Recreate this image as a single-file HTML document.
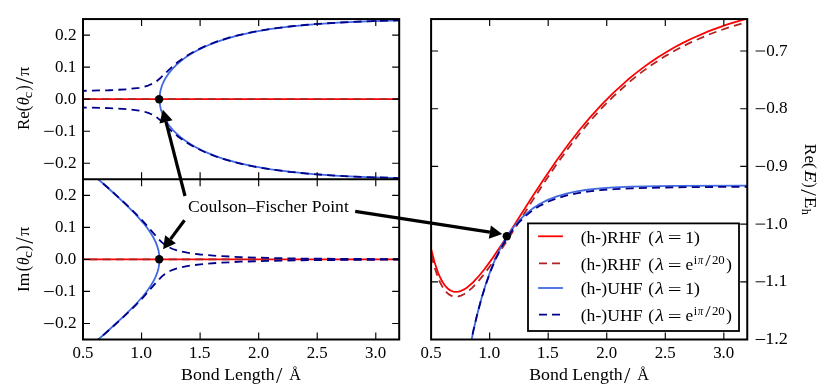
<!DOCTYPE html><html><head><meta charset="utf-8"><style>html,body{margin:0;padding:0;background:#fff;overflow:hidden;}svg{display:block;will-change:transform;}text{font-family:"Liberation Serif",serif;fill:#000;}</style></head><body>
<svg width="830" height="386" viewBox="0 0 830 386">
<defs>
<clipPath id="ct"><rect x="83.0" y="19.07" width="316.20" height="160.23"/></clipPath>
<clipPath id="cb"><rect x="83.0" y="179.3" width="316.20" height="160.20"/></clipPath>
<clipPath id="cr"><rect x="431.1" y="19.07" width="316.15" height="320.43"/></clipPath>
</defs>
<path d="M159.53,99.19 L160.13,92.45 L160.73,89.67 L161.93,85.76 L163.73,81.51 L166.13,77.15 L169.14,72.81 L172.74,68.52 L176.34,64.89 L180.55,61.23 L185.36,57.61 L190.76,54.06 L196.17,50.96 L202.17,47.91 L208.18,45.22 L214.79,42.60 L222.00,40.08 L237.01,35.72 L253.23,32.08 L271.25,28.97 L291.08,26.40 L313.30,24.28 L338.53,22.58 L366.76,21.29 L399.20,20.36" fill="none" stroke="#4169e1" stroke-width="1.8" stroke-linecap="square" stroke-linejoin="round" clip-path="url(#ct)"/>
<path d="M159.53,99.19 L160.13,105.92 L160.73,108.70 L161.93,112.61 L163.73,116.86 L166.13,121.22 L169.14,125.56 L172.74,129.85 L176.34,133.48 L180.55,137.14 L185.36,140.76 L190.76,144.31 L196.17,147.41 L202.17,150.46 L208.18,153.15 L214.79,155.77 L222.00,158.29 L237.01,162.65 L253.23,166.29 L271.25,169.40 L291.08,171.97 L313.30,174.09 L338.53,175.79 L366.76,177.08 L399.20,178.01" fill="none" stroke="#4169e1" stroke-width="1.8" stroke-linecap="square" stroke-linejoin="round" clip-path="url(#ct)"/>
<path d="M83.0,99.185 L399.2,99.185" fill="none" stroke="#ff0000" stroke-width="1.8" stroke-linecap="square" stroke-linejoin="round" clip-path="url(#ct)"/>
<path d="M83.0,99.185 L399.2,99.185" fill="none" stroke="#b22222" stroke-width="1.8" stroke-dasharray="8 5.22" stroke-dashoffset="7.67" stroke-linecap="butt" stroke-linejoin="round" clip-path="url(#ct)"/>
<path d="M83.00,90.85 L108.70,90.27 L126.73,89.28 L139.20,87.78 L143.99,86.79 L148.21,85.54 L152.81,83.53 L156.84,80.97 L160.73,77.71 L171.54,67.29 L177.55,62.21 L185.36,56.61 L194.37,51.28 L205.18,46.07 L217.19,41.39 L229.81,37.43 L244.22,33.80 L258.04,31.02 L273.06,28.59 L289.27,26.52 L307.29,24.73 L326.52,23.27 L348.14,22.05 L372.17,21.08 L399.20,20.34" fill="none" stroke="#00008b" stroke-width="1.8" stroke-dasharray="8 5.22" stroke-dashoffset="4.3" stroke-linecap="butt" stroke-linejoin="round" clip-path="url(#ct)"/>
<path d="M83.00,107.52 L108.70,108.10 L126.73,109.09 L139.20,110.59 L143.99,111.58 L148.21,112.83 L152.81,114.84 L156.84,117.40 L160.73,120.66 L171.54,131.08 L177.55,136.16 L185.36,141.76 L194.37,147.09 L205.18,152.30 L217.19,156.98 L229.81,160.94 L244.22,164.57 L258.04,167.35 L273.06,169.78 L289.27,171.85 L307.29,173.64 L326.52,175.10 L348.14,176.32 L372.17,177.29 L399.20,178.03" fill="none" stroke="#00008b" stroke-width="1.8" stroke-dasharray="8 5.22" stroke-dashoffset="4.3" stroke-linecap="butt" stroke-linejoin="round" clip-path="url(#ct)"/>
<path d="M83.00,165.79 L107.55,187.54 L123.66,202.34 L134.98,213.57 L143.61,223.28 L147.44,228.23 L150.70,232.98 L153.39,237.51 L155.69,242.19 L157.42,246.69 L158.57,250.85 L159.33,255.59 L159.53,259.40" fill="none" stroke="#4169e1" stroke-width="1.8" stroke-linecap="square" stroke-linejoin="round" clip-path="url(#cb)"/>
<path d="M83.00,353.01 L107.55,331.26 L123.66,316.46 L134.98,305.23 L143.61,295.52 L147.44,290.57 L150.70,285.82 L153.39,281.29 L155.69,276.61 L157.42,272.11 L158.57,267.95 L159.33,263.21 L159.53,259.40" fill="none" stroke="#4169e1" stroke-width="1.8" stroke-linecap="square" stroke-linejoin="round" clip-path="url(#cb)"/>
<path d="M83.0,259.4 L399.2,259.4" fill="none" stroke="#ff0000" stroke-width="1.8" stroke-linecap="square" stroke-linejoin="round" clip-path="url(#cb)"/>
<path d="M83.0,259.4 L399.2,259.4" fill="none" stroke="#b22222" stroke-width="1.8" stroke-dasharray="8 5.22" stroke-dashoffset="6.7" stroke-linecap="butt" stroke-linejoin="round" clip-path="url(#cb)"/>
<path d="M83.00,165.73 L113.88,193.04 L131.14,209.06 L142.65,220.81 L157.42,237.80 L161.93,242.39 L164.93,244.82 L168.54,247.07 L172.74,249.00 L176.95,250.43 L181.75,251.67 L187.16,252.73 L200.37,254.50 L217.79,255.93 L240.62,257.09 L268.25,257.94 L302.49,258.57 L399.20,259.24" fill="none" stroke="#00008b" stroke-width="1.8" stroke-dasharray="8 5.22" stroke-dashoffset="12.84" stroke-linecap="butt" stroke-linejoin="round" clip-path="url(#cb)"/>
<path d="M83.00,353.07 L113.88,325.76 L131.14,309.74 L142.65,297.99 L157.42,281.00 L161.93,276.41 L164.93,273.98 L168.54,271.73 L172.74,269.80 L176.95,268.37 L181.75,267.13 L187.16,266.07 L200.37,264.30 L217.79,262.87 L240.62,261.71 L268.25,260.86 L302.49,260.23 L399.20,259.56" fill="none" stroke="#00008b" stroke-width="1.8" stroke-dasharray="8 5.22" stroke-dashoffset="12.84" stroke-linecap="butt" stroke-linejoin="round" clip-path="url(#cb)"/>
<path d="M431.10,248.91 L434.55,262.30 L438.20,273.00 L440.11,277.43 L442.22,281.47 L444.33,284.73 L446.44,287.28 L448.74,289.36 L451.04,290.77 L453.34,291.59 L455.84,291.90 L458.52,291.63 L461.21,290.81 L464.08,289.41 L467.15,287.40 L472.33,283.01 L478.08,276.97 L484.41,269.26 L491.70,259.38 L504.74,240.02 L531.64,197.83 L543.65,179.44 L556.26,160.99 L568.27,144.45 L579.68,129.79 L590.50,116.90 L601.91,104.34 L613.32,92.86 L627.73,79.81 L634.94,73.88 L642.75,67.86 L650.55,62.25 L658.36,57.02 L666.17,52.17 L674.58,47.32 L682.99,42.84 L691.39,38.72 L708.81,31.18 L727.43,24.43 L747.25,18.51" fill="none" stroke="#ff0000" stroke-width="1.8" stroke-linecap="square" stroke-linejoin="round" clip-path="url(#cr)"/>
<path d="M431.10,254.02 L434.55,267.38 L438.20,278.03 L440.11,282.44 L442.03,286.13 L444.14,289.43 L446.25,292.02 L448.55,294.13 L450.85,295.57 L453.15,296.41 L455.65,296.73 L458.33,296.47 L461.02,295.66 L463.89,294.26 L466.96,292.25 L472.14,287.84 L477.89,281.77 L484.22,274.01 L491.51,264.08 L504.55,244.61 L531.64,201.89 L543.65,183.40 L556.26,164.86 L568.27,148.25 L579.68,133.53 L590.50,120.58 L601.91,107.98 L613.32,96.45 L627.73,83.36 L634.94,77.40 L642.75,71.36 L650.55,65.73 L658.36,60.49 L666.17,55.61 L674.58,50.75 L682.99,46.26 L691.39,42.12 L708.81,34.55 L727.43,27.78 L747.25,21.83" fill="none" stroke="#b22222" stroke-width="1.8" stroke-dasharray="8 5.22" stroke-dashoffset="11.95" stroke-linecap="butt" stroke-linejoin="round" clip-path="url(#cr)"/>
<path d="M431.10,600.00 L441.07,600.00 L444.91,551.17 L448.36,511.74 L452.19,473.04 L456.03,439.13 L460.06,408.03 L464.47,378.56 L468.88,353.19 L473.67,329.56 L477.70,312.42 L481.92,296.72 L486.33,282.43 L491.12,269.01 L496.11,257.04 L501.48,246.07 L507.04,236.47 L513.02,227.84 L519.02,220.63 L525.63,214.11 L532.84,208.37 L540.05,203.78 L547.85,199.85 L556.86,196.35 L566.47,193.57 L576.68,191.40 L587.49,189.74 L600.10,188.39 L613.92,187.42 L630.74,186.67 L673.38,185.85 L747.25,185.57" fill="none" stroke="#4169e1" stroke-width="1.8" stroke-linecap="square" stroke-linejoin="round" clip-path="url(#cr)"/>
<path d="M431.10,600.00 L440.69,600.00 L444.14,555.55 L447.78,513.82 L451.62,475.15 L455.45,441.26 L459.48,410.18 L463.89,380.72 L468.30,355.37 L473.10,331.77 L477.12,314.65 L481.34,298.96 L485.75,284.70 L490.55,271.29 L495.53,259.34 L500.90,248.37 L506.46,238.78 L512.42,230.18 L518.42,222.96 L525.03,216.41 L532.24,210.64 L539.44,206.02 L547.25,202.04 L556.26,198.49 L565.87,195.65 L576.68,193.30 L587.49,191.60 L600.10,190.20 L614.52,189.12 L631.34,188.30 L675.18,187.28 L747.25,186.74" fill="none" stroke="#00008b" stroke-width="1.8" stroke-dasharray="8 5.22" stroke-dashoffset="0.62" stroke-linecap="butt" stroke-linejoin="round" clip-path="url(#cr)"/>
<path d="M141.56,19.07 L141.56,26.07 M141.56,339.50 L141.56,332.50 M489.65,19.07 L489.65,26.07 M489.65,339.50 L489.65,332.50 M141.56,179.30 L141.56,172.30 M141.56,179.30 L141.56,186.30 M200.11,19.07 L200.11,26.07 M200.11,339.50 L200.11,332.50 M548.19,19.07 L548.19,26.07 M548.19,339.50 L548.19,332.50 M200.11,179.30 L200.11,172.30 M200.11,179.30 L200.11,186.30 M258.67,19.07 L258.67,26.07 M258.67,339.50 L258.67,332.50 M606.74,19.07 L606.74,26.07 M606.74,339.50 L606.74,332.50 M258.67,179.30 L258.67,172.30 M258.67,179.30 L258.67,186.30 M317.22,19.07 L317.22,26.07 M317.22,339.50 L317.22,332.50 M665.29,19.07 L665.29,26.07 M665.29,339.50 L665.29,332.50 M317.22,179.30 L317.22,172.30 M317.22,179.30 L317.22,186.30 M375.78,19.07 L375.78,26.07 M375.78,339.50 L375.78,332.50 M723.83,19.07 L723.83,26.07 M723.83,339.50 L723.83,332.50 M375.78,179.30 L375.78,172.30 M375.78,179.30 L375.78,186.30 M83.00,163.28 L90.00,163.28 M399.20,163.28 L392.20,163.28 M83.00,323.48 L90.00,323.48 M399.20,323.48 L392.20,323.48 M83.00,131.23 L90.00,131.23 M399.20,131.23 L392.20,131.23 M83.00,291.44 L90.00,291.44 M399.20,291.44 L392.20,291.44 M83.00,99.19 L90.00,99.19 M399.20,99.19 L392.20,99.19 M83.00,259.40 L90.00,259.40 M399.20,259.40 L392.20,259.40 M83.00,67.14 L90.00,67.14 M399.20,67.14 L392.20,67.14 M83.00,227.36 L90.00,227.36 M399.20,227.36 L392.20,227.36 M83.00,35.09 L90.00,35.09 M399.20,35.09 L392.20,35.09 M83.00,195.32 L90.00,195.32 M399.20,195.32 L392.20,195.32 M431.10,51.00 L438.10,51.00 M747.25,51.00 L740.25,51.00 M431.10,108.70 L438.10,108.70 M747.25,108.70 L740.25,108.70 M431.10,166.40 L438.10,166.40 M747.25,166.40 L740.25,166.40 M431.10,224.10 L438.10,224.10 M747.25,224.10 L740.25,224.10 M431.10,281.80 L438.10,281.80 M747.25,281.80 L740.25,281.80" stroke="#000" stroke-width="1.15" fill="none"/>
<rect x="83.0" y="19.07" width="316.20" height="320.43" fill="none" stroke="#000" stroke-width="2.0"/>
<path d="M83.0,179.3 L399.2,179.3" stroke="#000" stroke-width="2.0"/>
<rect x="431.1" y="19.07" width="316.15" height="320.43" fill="none" stroke="#000" stroke-width="2.0"/>
<text x="54.94" y="167.88" font-size="17.4" textLength="21.61" lengthAdjust="spacingAndGlyphs">0.2</text>
<text x="54.94" y="328.08" font-size="17.4" textLength="21.61" lengthAdjust="spacingAndGlyphs">0.2</text>
<text x="54.96" y="135.83" font-size="17.4" textLength="21.16" lengthAdjust="spacingAndGlyphs">0.1</text>
<text x="54.96" y="296.04" font-size="17.4" textLength="21.16" lengthAdjust="spacingAndGlyphs">0.1</text>
<text x="54.95" y="103.78" font-size="17.4" textLength="21.30" lengthAdjust="spacingAndGlyphs">0.0</text>
<text x="54.95" y="264.00" font-size="17.4" textLength="21.30" lengthAdjust="spacingAndGlyphs">0.0</text>
<text x="54.96" y="71.74" font-size="17.4" textLength="21.16" lengthAdjust="spacingAndGlyphs">0.1</text>
<text x="54.96" y="231.96" font-size="17.4" textLength="21.16" lengthAdjust="spacingAndGlyphs">0.1</text>
<text x="54.94" y="39.69" font-size="17.4" textLength="21.61" lengthAdjust="spacingAndGlyphs">0.2</text>
<text x="54.94" y="199.92" font-size="17.4" textLength="21.61" lengthAdjust="spacingAndGlyphs">0.2</text>
<text x="72.51" y="357.90" font-size="17.4" textLength="21.00" lengthAdjust="spacingAndGlyphs">0.5</text>
<text x="420.61" y="357.90" font-size="17.4" textLength="21.00" lengthAdjust="spacingAndGlyphs">0.5</text>
<text x="130.17" y="357.90" font-size="17.4" textLength="21.91" lengthAdjust="spacingAndGlyphs">1.0</text>
<text x="478.26" y="357.90" font-size="17.4" textLength="21.91" lengthAdjust="spacingAndGlyphs">1.0</text>
<text x="188.72" y="357.90" font-size="17.4" textLength="21.93" lengthAdjust="spacingAndGlyphs">1.5</text>
<text x="536.80" y="357.90" font-size="17.4" textLength="21.93" lengthAdjust="spacingAndGlyphs">1.5</text>
<text x="248.08" y="357.90" font-size="17.4" textLength="21.08" lengthAdjust="spacingAndGlyphs">2.0</text>
<text x="596.15" y="357.90" font-size="17.4" textLength="21.08" lengthAdjust="spacingAndGlyphs">2.0</text>
<text x="306.63" y="357.90" font-size="17.4" textLength="21.10" lengthAdjust="spacingAndGlyphs">2.5</text>
<text x="654.69" y="357.90" font-size="17.4" textLength="21.10" lengthAdjust="spacingAndGlyphs">2.5</text>
<text x="365.12" y="357.90" font-size="17.4" textLength="21.15" lengthAdjust="spacingAndGlyphs">3.0</text>
<text x="713.17" y="357.90" font-size="17.4" textLength="21.15" lengthAdjust="spacingAndGlyphs">3.0</text>
<text x="766.15" y="55.50" font-size="17.4" textLength="21.34" lengthAdjust="spacingAndGlyphs">0.7</text>
<text x="766.14" y="113.20" font-size="17.4" textLength="21.51" lengthAdjust="spacingAndGlyphs">0.8</text>
<text x="766.14" y="170.90" font-size="17.4" textLength="21.56" lengthAdjust="spacingAndGlyphs">0.9</text>
<text x="765.22" y="228.60" font-size="17.4" textLength="22.46" lengthAdjust="spacingAndGlyphs">1.0</text>
<text x="765.24" y="286.30" font-size="17.4" textLength="22.23" lengthAdjust="spacingAndGlyphs">1.1</text>
<text x="765.20" y="344.00" font-size="17.4" textLength="22.81" lengthAdjust="spacingAndGlyphs">1.2</text>
<path d="M44.2,163.38 L53.8,163.38 M44.2,323.58 L53.8,323.58 M44.2,131.33 L53.8,131.33 M44.2,291.54 L53.8,291.54 M755.6,51.00 L765.2,51.00 M755.6,108.70 L765.2,108.70 M755.6,166.40 L765.2,166.40 M755.6,224.10 L765.2,224.10 M755.6,281.80 L765.2,281.80 M755.6,339.50 L765.2,339.50" stroke="#000" stroke-width="0.95" fill="none"/>
<text x="181.09" y="379.80" font-size="16.8" textLength="93.55" lengthAdjust="spacingAndGlyphs">Bond Length</text>
<text x="275.90" y="383.40" font-size="23.8" textLength="6.40" lengthAdjust="spacingAndGlyphs">/</text>
<text x="289.24" y="379.80" font-size="17.2" textLength="11.68" lengthAdjust="spacingAndGlyphs">Å</text>
<text x="529.19" y="379.80" font-size="16.8" textLength="93.55" lengthAdjust="spacingAndGlyphs">Bond Length</text>
<text x="624.00" y="383.40" font-size="23.8" textLength="6.40" lengthAdjust="spacingAndGlyphs">/</text>
<text x="637.34" y="379.80" font-size="17.2" textLength="11.68" lengthAdjust="spacingAndGlyphs">Å</text>
<text x="187.98" y="212.10" font-size="16.8" textLength="160.82" lengthAdjust="spacingAndGlyphs">Coulson–Fischer Point</text>
<g transform="rotate(-90)">
<text x="-130.09" y="29.00" font-size="16.8" textLength="18.88" lengthAdjust="spacingAndGlyphs">Re</text>
<text x="-111.45" y="29.17" font-size="18.0" textLength="5.70" lengthAdjust="spacingAndGlyphs">(</text>
<text x="-105.30" y="29.00" font-size="16.8" font-style="italic" textLength="8.09" lengthAdjust="spacingAndGlyphs">θ</text>
<text x="-98.16" y="31.90" font-size="11.8" textLength="6.51" lengthAdjust="spacingAndGlyphs">c</text>
<text x="-90.50" y="29.17" font-size="18.0" textLength="5.19" lengthAdjust="spacingAndGlyphs">)</text>
<text x="-84.10" y="32.77" font-size="24.4" textLength="6.90" lengthAdjust="spacingAndGlyphs">/</text>
<text x="-76.05" y="29.00" font-size="16.8" textLength="9.23" lengthAdjust="spacingAndGlyphs">π</text>
</g>
<g transform="rotate(-90)">
<text x="-291.93" y="29.00" font-size="16.8" textLength="19.30" lengthAdjust="spacingAndGlyphs">Im</text>
<text x="-271.28" y="29.17" font-size="18.0" textLength="5.19" lengthAdjust="spacingAndGlyphs">(</text>
<text x="-265.06" y="29.00" font-size="16.8" font-style="italic" textLength="7.62" lengthAdjust="spacingAndGlyphs">θ</text>
<text x="-257.99" y="31.90" font-size="11.8" textLength="6.86" lengthAdjust="spacingAndGlyphs">c</text>
<text x="-251.04" y="29.17" font-size="18.0" textLength="5.58" lengthAdjust="spacingAndGlyphs">)</text>
<text x="-243.70" y="32.77" font-size="24.4" textLength="6.50" lengthAdjust="spacingAndGlyphs">/</text>
<text x="-236.05" y="29.00" font-size="16.8" textLength="9.23" lengthAdjust="spacingAndGlyphs">π</text>
</g>
<g transform="rotate(90)">
<text x="143.85" y="-805.00" font-size="16.8" textLength="19.25" lengthAdjust="spacingAndGlyphs">Re</text>
<text x="162.81" y="-804.75" font-size="17.6" textLength="5.96" lengthAdjust="spacingAndGlyphs">(</text>
<text x="170.23" y="-805.00" font-size="16.8" font-style="italic" textLength="12.09" lengthAdjust="spacingAndGlyphs">E</text>
<text x="182.50" y="-804.75" font-size="17.6" textLength="5.19" lengthAdjust="spacingAndGlyphs">)</text>
<text x="189.20" y="-801.23" font-size="23.9" textLength="6.60" lengthAdjust="spacingAndGlyphs">/</text>
<text x="196.70" y="-805.00" font-size="16.8" textLength="11.65" lengthAdjust="spacingAndGlyphs">E</text>
<text x="208.78" y="-802.10" font-size="11.8" textLength="6.08" lengthAdjust="spacingAndGlyphs">h</text>
</g>
<path d="M185.00,196.00 L166.00,121.91" stroke="#000" stroke-width="3.2" fill="none"/>
<path d="M162.90,109.80 L172.54,120.23 L159.47,123.58 Z" fill="#000"/>
<path d="M184.50,220.20 L170.52,239.14" stroke="#000" stroke-width="3.2" fill="none"/>
<path d="M163.10,249.20 L165.09,235.13 L175.95,243.15 Z" fill="#000"/>
<path d="M355.20,211.30 L489.85,232.15" stroke="#000" stroke-width="3.2" fill="none"/>
<path d="M502.20,234.06 L488.81,238.82 L490.88,225.48 Z" fill="#000"/>
<circle cx="159.15" cy="99.2" r="4.2" fill="#000"/>
<circle cx="159.2" cy="259.2" r="4.2" fill="#000"/>
<circle cx="506.8" cy="236.3" r="4.2" fill="#000"/>
<rect x="528" y="223.4" width="211" height="107.6" fill="#fff" stroke="#000" stroke-width="1.8"/>
<path d="M539,236.3 L562,236.3" stroke="#ff0000" stroke-width="1.8" stroke-linecap="square"/>
<text x="580.73" y="242.50" font-size="16.8" textLength="60.30" lengthAdjust="spacingAndGlyphs">(h-)RHF</text>
<text x="648.33" y="242.50" font-size="16.8" textLength="5.83" lengthAdjust="spacingAndGlyphs">(</text>
<text x="655.39" y="242.50" font-size="16.8" font-style="italic" textLength="8.71" lengthAdjust="spacingAndGlyphs">λ</text>
<text x="667.88" y="243.40" font-size="16.8" textLength="13.82" lengthAdjust="spacingAndGlyphs">=</text>
<text x="684.98" y="242.50" font-size="16.8" textLength="9.23" lengthAdjust="spacingAndGlyphs">1</text>
<text x="693.80" y="242.50" font-size="16.8" textLength="6.22" lengthAdjust="spacingAndGlyphs">)</text>
<path d="M539,263.3 L563,263.3" stroke="#b22222" stroke-width="1.8" stroke-dasharray="8 5"/>
<text x="580.73" y="269.70" font-size="16.8" textLength="60.30" lengthAdjust="spacingAndGlyphs">(h-)RHF</text>
<text x="648.33" y="269.70" font-size="16.8" textLength="5.83" lengthAdjust="spacingAndGlyphs">(</text>
<text x="655.39" y="269.70" font-size="16.8" font-style="italic" textLength="8.71" lengthAdjust="spacingAndGlyphs">λ</text>
<text x="667.88" y="270.60" font-size="16.8" textLength="13.82" lengthAdjust="spacingAndGlyphs">=</text>
<text x="685.62" y="269.70" font-size="16.8" textLength="7.67" lengthAdjust="spacingAndGlyphs">e</text>
<text x="693.84" y="263.70" font-size="11.8" textLength="3.39" lengthAdjust="spacingAndGlyphs">i</text>
<text x="698.05" y="263.70" font-size="11.8" font-style="italic" textLength="5.12" lengthAdjust="spacingAndGlyphs">π</text>
<text x="705.30" y="265.70" font-size="16.3" textLength="5.40" lengthAdjust="spacingAndGlyphs">/</text>
<text x="711.94" y="263.70" font-size="11.8" textLength="12.85" lengthAdjust="spacingAndGlyphs">20</text>
<text x="726.02" y="269.70" font-size="16.8" textLength="5.96" lengthAdjust="spacingAndGlyphs">)</text>
<path d="M539,288.0 L562,288.0" stroke="#4169e1" stroke-width="1.8" stroke-linecap="square"/>
<text x="580.72" y="294.20" font-size="16.8" textLength="61.92" lengthAdjust="spacingAndGlyphs">(h-)UHF</text>
<text x="648.33" y="294.20" font-size="16.8" textLength="5.83" lengthAdjust="spacingAndGlyphs">(</text>
<text x="655.39" y="294.20" font-size="16.8" font-style="italic" textLength="8.71" lengthAdjust="spacingAndGlyphs">λ</text>
<text x="667.88" y="295.10" font-size="16.8" textLength="13.82" lengthAdjust="spacingAndGlyphs">=</text>
<text x="684.98" y="294.20" font-size="16.8" textLength="9.23" lengthAdjust="spacingAndGlyphs">1</text>
<text x="693.80" y="294.20" font-size="16.8" textLength="6.22" lengthAdjust="spacingAndGlyphs">)</text>
<path d="M539,314.7 L563,314.7" stroke="#00008b" stroke-width="1.8" stroke-dasharray="8 5"/>
<text x="580.72" y="321.30" font-size="16.8" textLength="61.92" lengthAdjust="spacingAndGlyphs">(h-)UHF</text>
<text x="648.33" y="321.30" font-size="16.8" textLength="5.83" lengthAdjust="spacingAndGlyphs">(</text>
<text x="655.39" y="321.30" font-size="16.8" font-style="italic" textLength="8.71" lengthAdjust="spacingAndGlyphs">λ</text>
<text x="667.88" y="322.20" font-size="16.8" textLength="13.82" lengthAdjust="spacingAndGlyphs">=</text>
<text x="685.62" y="321.30" font-size="16.8" textLength="7.67" lengthAdjust="spacingAndGlyphs">e</text>
<text x="693.84" y="315.30" font-size="11.8" textLength="3.39" lengthAdjust="spacingAndGlyphs">i</text>
<text x="698.05" y="315.30" font-size="11.8" font-style="italic" textLength="5.12" lengthAdjust="spacingAndGlyphs">π</text>
<text x="705.30" y="317.30" font-size="16.3" textLength="5.40" lengthAdjust="spacingAndGlyphs">/</text>
<text x="711.94" y="315.30" font-size="11.8" textLength="12.85" lengthAdjust="spacingAndGlyphs">20</text>
<text x="726.02" y="321.30" font-size="16.8" textLength="5.96" lengthAdjust="spacingAndGlyphs">)</text>
</svg></body></html>
